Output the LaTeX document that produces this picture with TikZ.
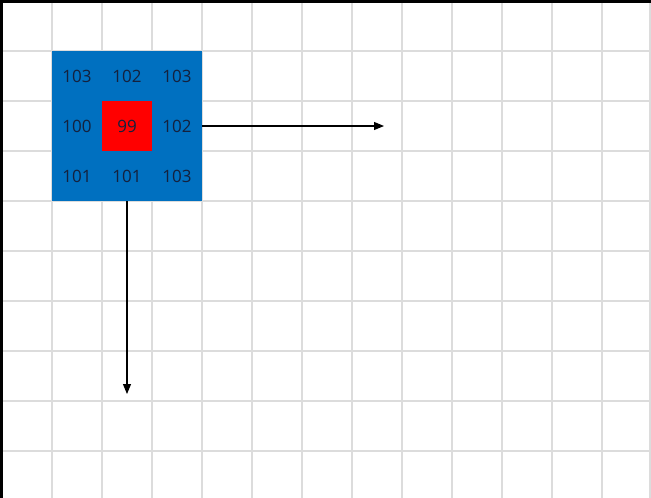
\documentclass[tikz,border=0pt]{standalone}
\usepackage{fontspec}
\setmainfont{Open Sans}
\usetikzlibrary{arrows.meta}
\definecolor{gridc}{HTML}{DCDCDC}
\definecolor{blueb}{HTML}{0070C0}
\definecolor{txtc}{HTML}{14213D}
\tikzset{
  cell/.style={minimum size=50pt, inner sep=0pt, text=txtc, font=\fontsize{17}{20}\selectfont},
  arr/.style={-{Triangle[length=10pt,width=8pt]}, line width=1.1pt, black}
}
\begin{document}
\begin{tikzpicture}[x=1pt,y=-1pt]
\useasboundingbox (0,0) rectangle (651,498);
\fill[white] (0,0) rectangle (651,498);
% grid
\foreach \x in {52,102,...,602} \draw[gridc, line width=1.3pt] (\x,0) -- (\x,498);
\foreach \y in {51,101,...,451} \draw[gridc, line width=1.3pt] (0,\y) -- (651,\y);
\draw[gridc, line width=1.3pt] (650,0) -- (650,498);
% border
\draw[black, line width=2.6pt] (0,1.3) -- (651,1.3);
\draw[black, line width=3pt] (1.5,0) -- (1.5,498);
% blue block
\node[fill=blueb, minimum size=150pt, inner sep=0pt] (blk) at (127,126) {};
\node[cell] (c11) at (77,76) {103};
\node[cell] (c12) at (127,76) {102};
\node[cell] (c13) at (177,76) {103};
\node[cell] (c21) at (77,126) {100};
\node[cell, fill=red] (c22) at (127,126) {99};
\node[cell] (c23) at (177,126) {102};
\node[cell] (c31) at (77,176) {101};
\node[cell] (c32) at (127,176) {101};
\node[cell] (c33) at (177,176) {103};
\coordinate (e1) at (384,126);
\coordinate (e2) at (127,394);
\draw[arr] (blk.east |- c23) -- (e1);
\draw[arr] (blk.south -| c32) -- (e2);
\end{tikzpicture}
\end{document}
